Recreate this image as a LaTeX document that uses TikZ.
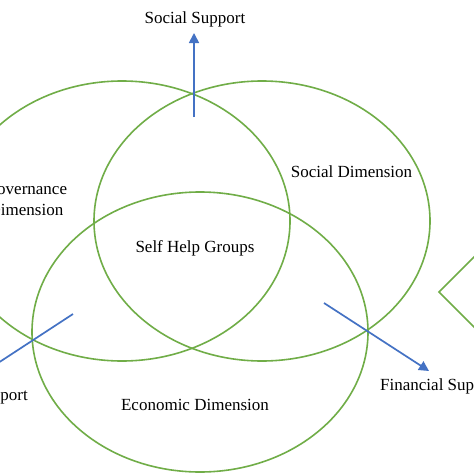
\documentclass[tikz,border=0pt]{standalone}
\usepackage{fontspec}
\setmainfont{Liberation Serif}
\usetikzlibrary{arrows.meta}
\definecolor{vgreen}{RGB}{112,173,71}
\definecolor{vblue}{RGB}{68,114,196}
\begin{document}
\begin{tikzpicture}[x=1pt,y=-1pt,
  ring/.style={draw=vgreen, line width=1.6pt},
  support/.style={draw=vblue, line width=1.7pt, -{Triangle[length=10pt,width=10pt]}},
  lbl/.style={font=\fontsize{17}{21}\selectfont, inner sep=0pt, align=center}]
\useasboundingbox (0,0) rectangle (474,474);
\clip (0,0) rectangle (474,474);
\fill[white] (0,0) rectangle (474,474);
% dimensions
\draw[ring] (122,221) ellipse [x radius=168, y radius=140];
\draw[ring] (262,221) ellipse [x radius=168, y radius=140];
\draw[ring] (200,332) ellipse [x radius=168, y radius=140];
\draw[ring] (505,226) -- (439,292) -- (505,358);
% labels
\node[lbl] (govdim) at (26,199.5) {Governance\\Dimension};
\node[lbl] (socdim) at (351.5,172) {Social Dimension};
\node[lbl] (shg) at (195,248) {Self Help Groups};
\node[lbl] (ecodim) at (195,405) {Economic Dimension};
\node[lbl] (ss) at (195,19) {Social Support};
\node[lbl, anchor=west] (fs) at (380,386) {Financial Support};
\node[lbl, anchor=east] (gs) at (28,397) {Support};
% supports
\coordinate (ssbase) at (194,117);
\coordinate (sstip) at (194,33);
\coordinate (fsbase) at (324,303);
\coordinate (fstip) at (429,371);
\coordinate (gsbase) at (73,314);
\coordinate (gstip) at (-28,380);
\draw[support] (ssbase) -- (sstip);
\draw[support] (fsbase) -- (fstip);
\draw[support] (gsbase) -- (gstip);
\end{tikzpicture}
\end{document}
